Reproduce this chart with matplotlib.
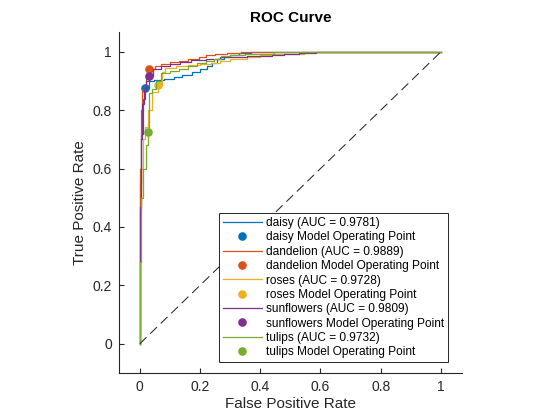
import matplotlib
matplotlib.use("Agg")
import matplotlib.pyplot as plt
from matplotlib.ticker import FuncFormatter, FixedLocator

plt.rcParams['font.family'] = ['Liberation Sans', 'DejaVu Sans']

classes = ["daisy", "dandelion", "roses", "sunflowers", "tulips"]
auc = [0.9781, 0.9889, 0.9728, 0.9809, 0.9732]
colors = ["#0072BD", "#D95319", "#EDB120", "#7E2F8E", "#77AC30"]

fpr_daisy = [0, 0, 0.005, 0.010, 0.016, 0.030, 0.046, 0.08, 0.112, 0.14, 0.174, 0.20, 0.224, 0.24, 0.257, 0.28, 0.30, 0.33, 0.368, 1]
tpr_daisy = [0, 0.55, 0.72, 0.84, 0.875, 0.90, 0.905, 0.908, 0.914, 0.922, 0.931, 0.94, 0.951, 0.962, 0.974, 0.982, 0.989, 0.995, 1.0, 1.0]

fpr_dandelion = [0, 0, 0.003, 0.008, 0.020, 0.032, 0.05, 0.07, 0.10, 0.13, 0.16, 0.195, 0.22, 0.25, 0.29, 0.335, 1]
tpr_dandelion = [0, 0.60, 0.80, 0.87, 0.92, 0.941, 0.950, 0.958, 0.965, 0.970, 0.976, 0.983, 0.988, 0.993, 0.996, 1.0, 1.0]

fpr_roses = [0, 0, 0.005, 0.010, 0.018, 0.026, 0.042, 0.061, 0.074, 0.085, 0.12, 0.16, 0.20, 0.235, 0.268, 0.30, 0.357, 0.40, 0.435, 0.545, 1]
tpr_roses = [0, 0.45, 0.60, 0.70, 0.743, 0.80, 0.863, 0.886, 0.931, 0.945, 0.950, 0.955, 0.958, 0.963, 0.970, 0.975, 0.982, 0.988, 0.994, 1.0, 1.0]

fpr_sunflowers = [0, 0, 0.003, 0.008, 0.015, 0.022, 0.03, 0.045, 0.07, 0.10, 0.135, 0.17, 0.22, 0.268, 0.31, 0.357, 0.40, 0.44, 0.478, 0.53, 0.584, 1]
tpr_sunflowers = [0, 0.47, 0.70, 0.82, 0.87, 0.90, 0.917, 0.94, 0.952, 0.958, 0.965, 0.972, 0.977, 0.981, 0.983, 0.985, 0.987, 0.989, 0.993, 0.996, 1.0, 1.0]

fpr_tulips = [0, 0, 0.005, 0.012, 0.020, 0.027, 0.030, 0.042, 0.055, 0.069, 0.10, 0.13, 0.16, 0.19, 0.22, 0.245, 0.27, 0.30, 0.35, 0.445, 1]
tpr_tulips = [0, 0.28, 0.50, 0.60, 0.68, 0.724, 0.858, 0.872, 0.90, 0.926, 0.933, 0.94, 0.95, 0.96, 0.968, 0.977, 0.984, 0.99, 0.993, 1.0, 1.0]

fprs = [fpr_daisy, fpr_dandelion, fpr_roses, fpr_sunflowers, fpr_tulips]
tprs = [tpr_daisy, tpr_dandelion, tpr_roses, tpr_sunflowers, tpr_tulips]

op_fpr = [0.016, 0.032, 0.061, 0.030, 0.027]
op_tpr = [0.875, 0.941, 0.886, 0.917, 0.724]

fig = plt.figure(figsize=(5.6, 4.2), dpi=100)
ax = fig.add_axes([0.212, 0.112, 0.613, 0.8126])

for i, c in enumerate(classes):
    ax.plot(fprs[i], tprs[i], drawstyle='steps-post', color=colors[i], lw=0.9,
            label=f"{c} (AUC = {auc[i]:.4f})")
    ax.plot([op_fpr[i]], [op_tpr[i]], 'o', color=colors[i], markersize=6.2,
            markeredgewidth=0, label=f"{c} Model Operating Point")

ax.plot([0, 1], [0, 1], color='#262626', lw=0.75, linestyle=(0, (9, 5)))

ax.set_xlim(-0.07, 1.07)
ax.set_ylim(-0.1, 1.069)
ticks = [0, 0.2, 0.4, 0.6, 0.8, 1]
ax.xaxis.set_major_locator(FixedLocator(ticks))
ax.yaxis.set_major_locator(FixedLocator(ticks))
fmt = FuncFormatter(lambda v, p: f"{v:g}")
ax.xaxis.set_major_formatter(fmt)
ax.yaxis.set_major_formatter(fmt)

for s in ['top', 'right']:
    ax.spines[s].set_visible(False)
for s in ['left', 'bottom']:
    ax.spines[s].set_color('#262626')
    ax.spines[s].set_linewidth(0.8)
ax.tick_params(direction='in', length=3.5, width=0.8, colors='#262626',
               labelsize=10, pad=5)

ax.set_xlabel("False Positive Rate", fontsize=11, color='#262626', labelpad=2)
ax.set_ylabel("True Positive Rate", fontsize=11, color='#262626', labelpad=4)
ax.set_title("ROC Curve", fontsize=11, fontweight='bold', color='black', pad=7)

leg = ax.legend(loc='lower left', bbox_to_anchor=(0.292, 0.032), borderaxespad=0,
                fontsize=8.6, handlelength=3.3, handletextpad=0.35,
                labelspacing=0.2, borderpad=0.3, fancybox=False,
                framealpha=1, edgecolor='#262626')
leg.get_frame().set_linewidth(0.7)

fig.savefig("out.png", dpi=100)
